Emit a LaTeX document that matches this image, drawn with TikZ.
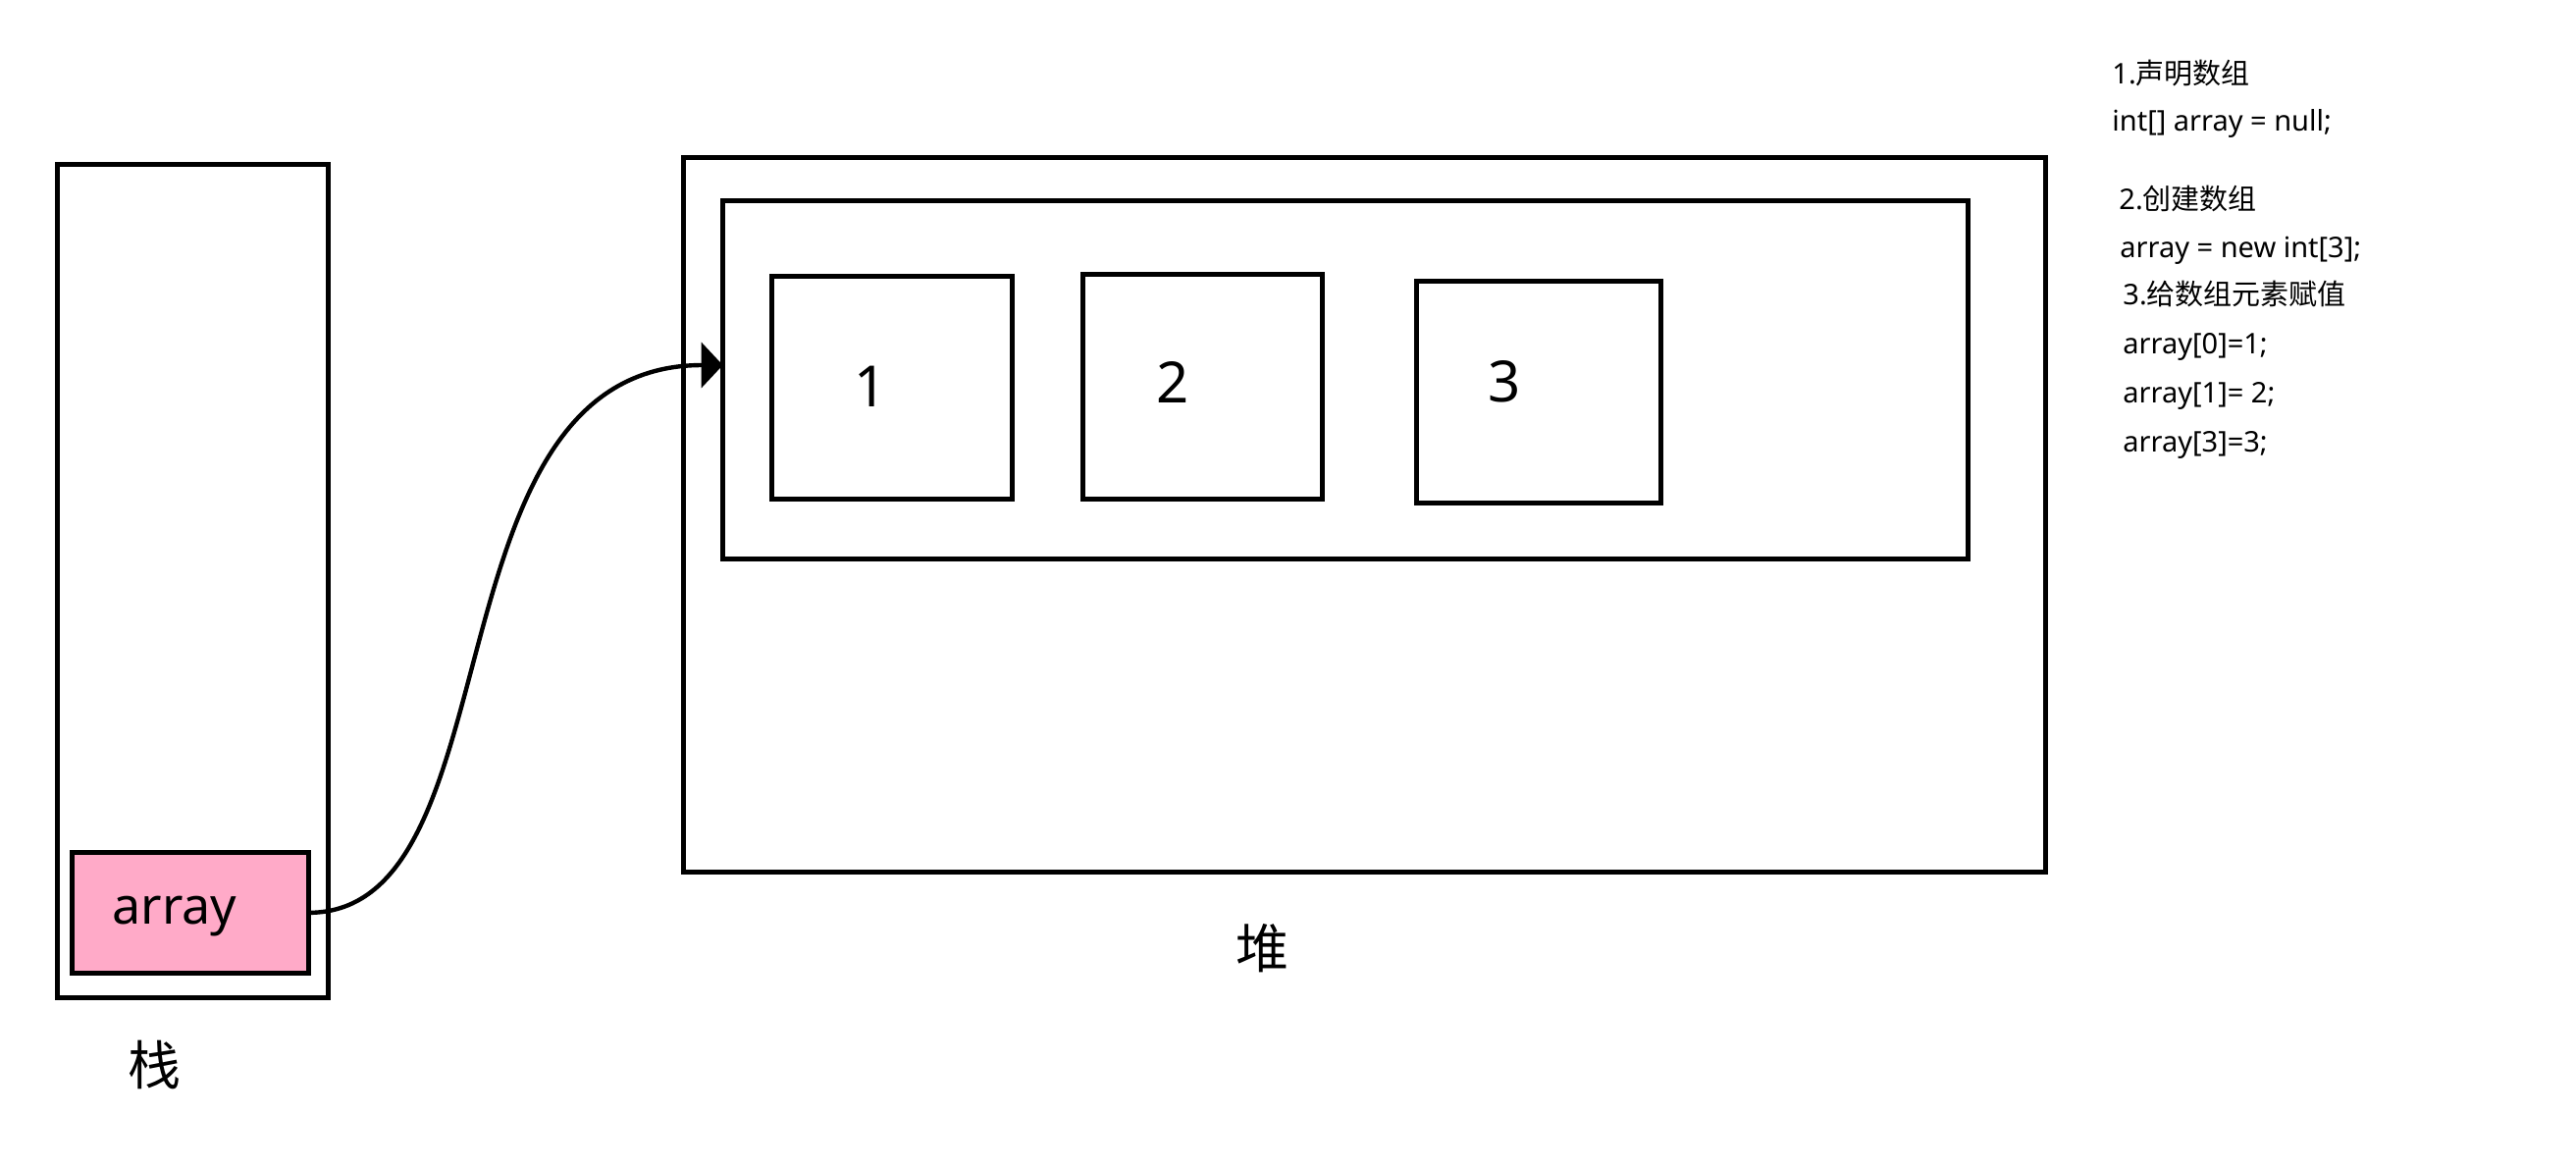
\documentclass[tikz,border=0pt]{standalone}
\usepackage{fontspec}
\setmainfont{Noto Sans}
\newfontfamily\cjk{Noto Sans CJK SC}
\usetikzlibrary{arrows.meta,fit}
\definecolor{pinkfill}{RGB}{255,170,200}
\begin{document}
\begin{tikzpicture}[x=0.5pt,y=-0.5pt,
  box/.style={draw=black, line width=2.5pt, inner sep=0pt, outer sep=0pt},
  conn/.style={draw=black, line width=2.2pt, -{Triangle[length=11pt,width=23pt]}},
  big/.style={font=\fontsize{26pt}{30pt}\selectfont, inner sep=0pt},
  digit/.style={font=\fontsize{29pt}{33pt}\selectfont, inner sep=0pt},
  cjklabel/.style={font=\cjk\fontsize{27pt}{30pt}\selectfont, inner sep=0pt},
  code/.style={font=\fontsize{14.5pt}{17pt}\selectfont, inner sep=0pt, anchor=base west}]
\useasboundingbox[fill=white] (0,0) rectangle (2625,1190);
% stack
\node[box, fit={(58.6,167.4)(334.8,1016.1)}] (stack) {};
\node[box, fill=pinkfill, fit={(73.7,868.8)(314.7,991)}] (arr) {};
\node[big] (arrtext) at (178,934) {array};
\node[cjklabel] (stacklabel) at (157,1085) {栈};
% heap
\node[box, fit={(696.4,160.7)(2084,888.9)}] (heap) {};
\node[box, fit={(736.6,204.2)(2005.5,569.2)}] (inner) {};
\node[box, fit={(786.8,281.2)(1031.2,508.9)}] (b1) {};
\node[box, fit={(1103,279.6)(1347.6,508.9)}] (b2) {};
\node[box, fit={(1443,286.3)(1692.4,512.2)}] (b3) {};
\node[digit] (d1) at (887,394) {1};
\node[digit] (d2) at (1195,389) {2};
\node[digit] (d3) at (1533,389) {3};
\node[cjklabel] (heaplabel) at (1286,966) {堆};
% connector
\coordinate (tip) at (736.6,372);
\draw[conn] (arr.east) .. controls (530,929) and (430,372) .. (tip);
% code text
\node[code] (t1) at (2152,85) {1.{\cjk 声明数组}};
\node[code] (t2) at (2152,133) {int[] array = null;};
\node[code] (t3) at (2159,213) {2.{\cjk 创建数组}};
\node[code] (t4) at (2160,262) {array = new int[3];};
\node[code] (t5) at (2163,310) {3.{\cjk 给数组元素赋值}};
\node[code] (t6) at (2163,360) {array[0]=1;};
\node[code] (t7) at (2163,410) {array[1]= 2;};
\node[code] (t8) at (2163,460) {array[3]=3;};
\end{tikzpicture}
\end{document}
